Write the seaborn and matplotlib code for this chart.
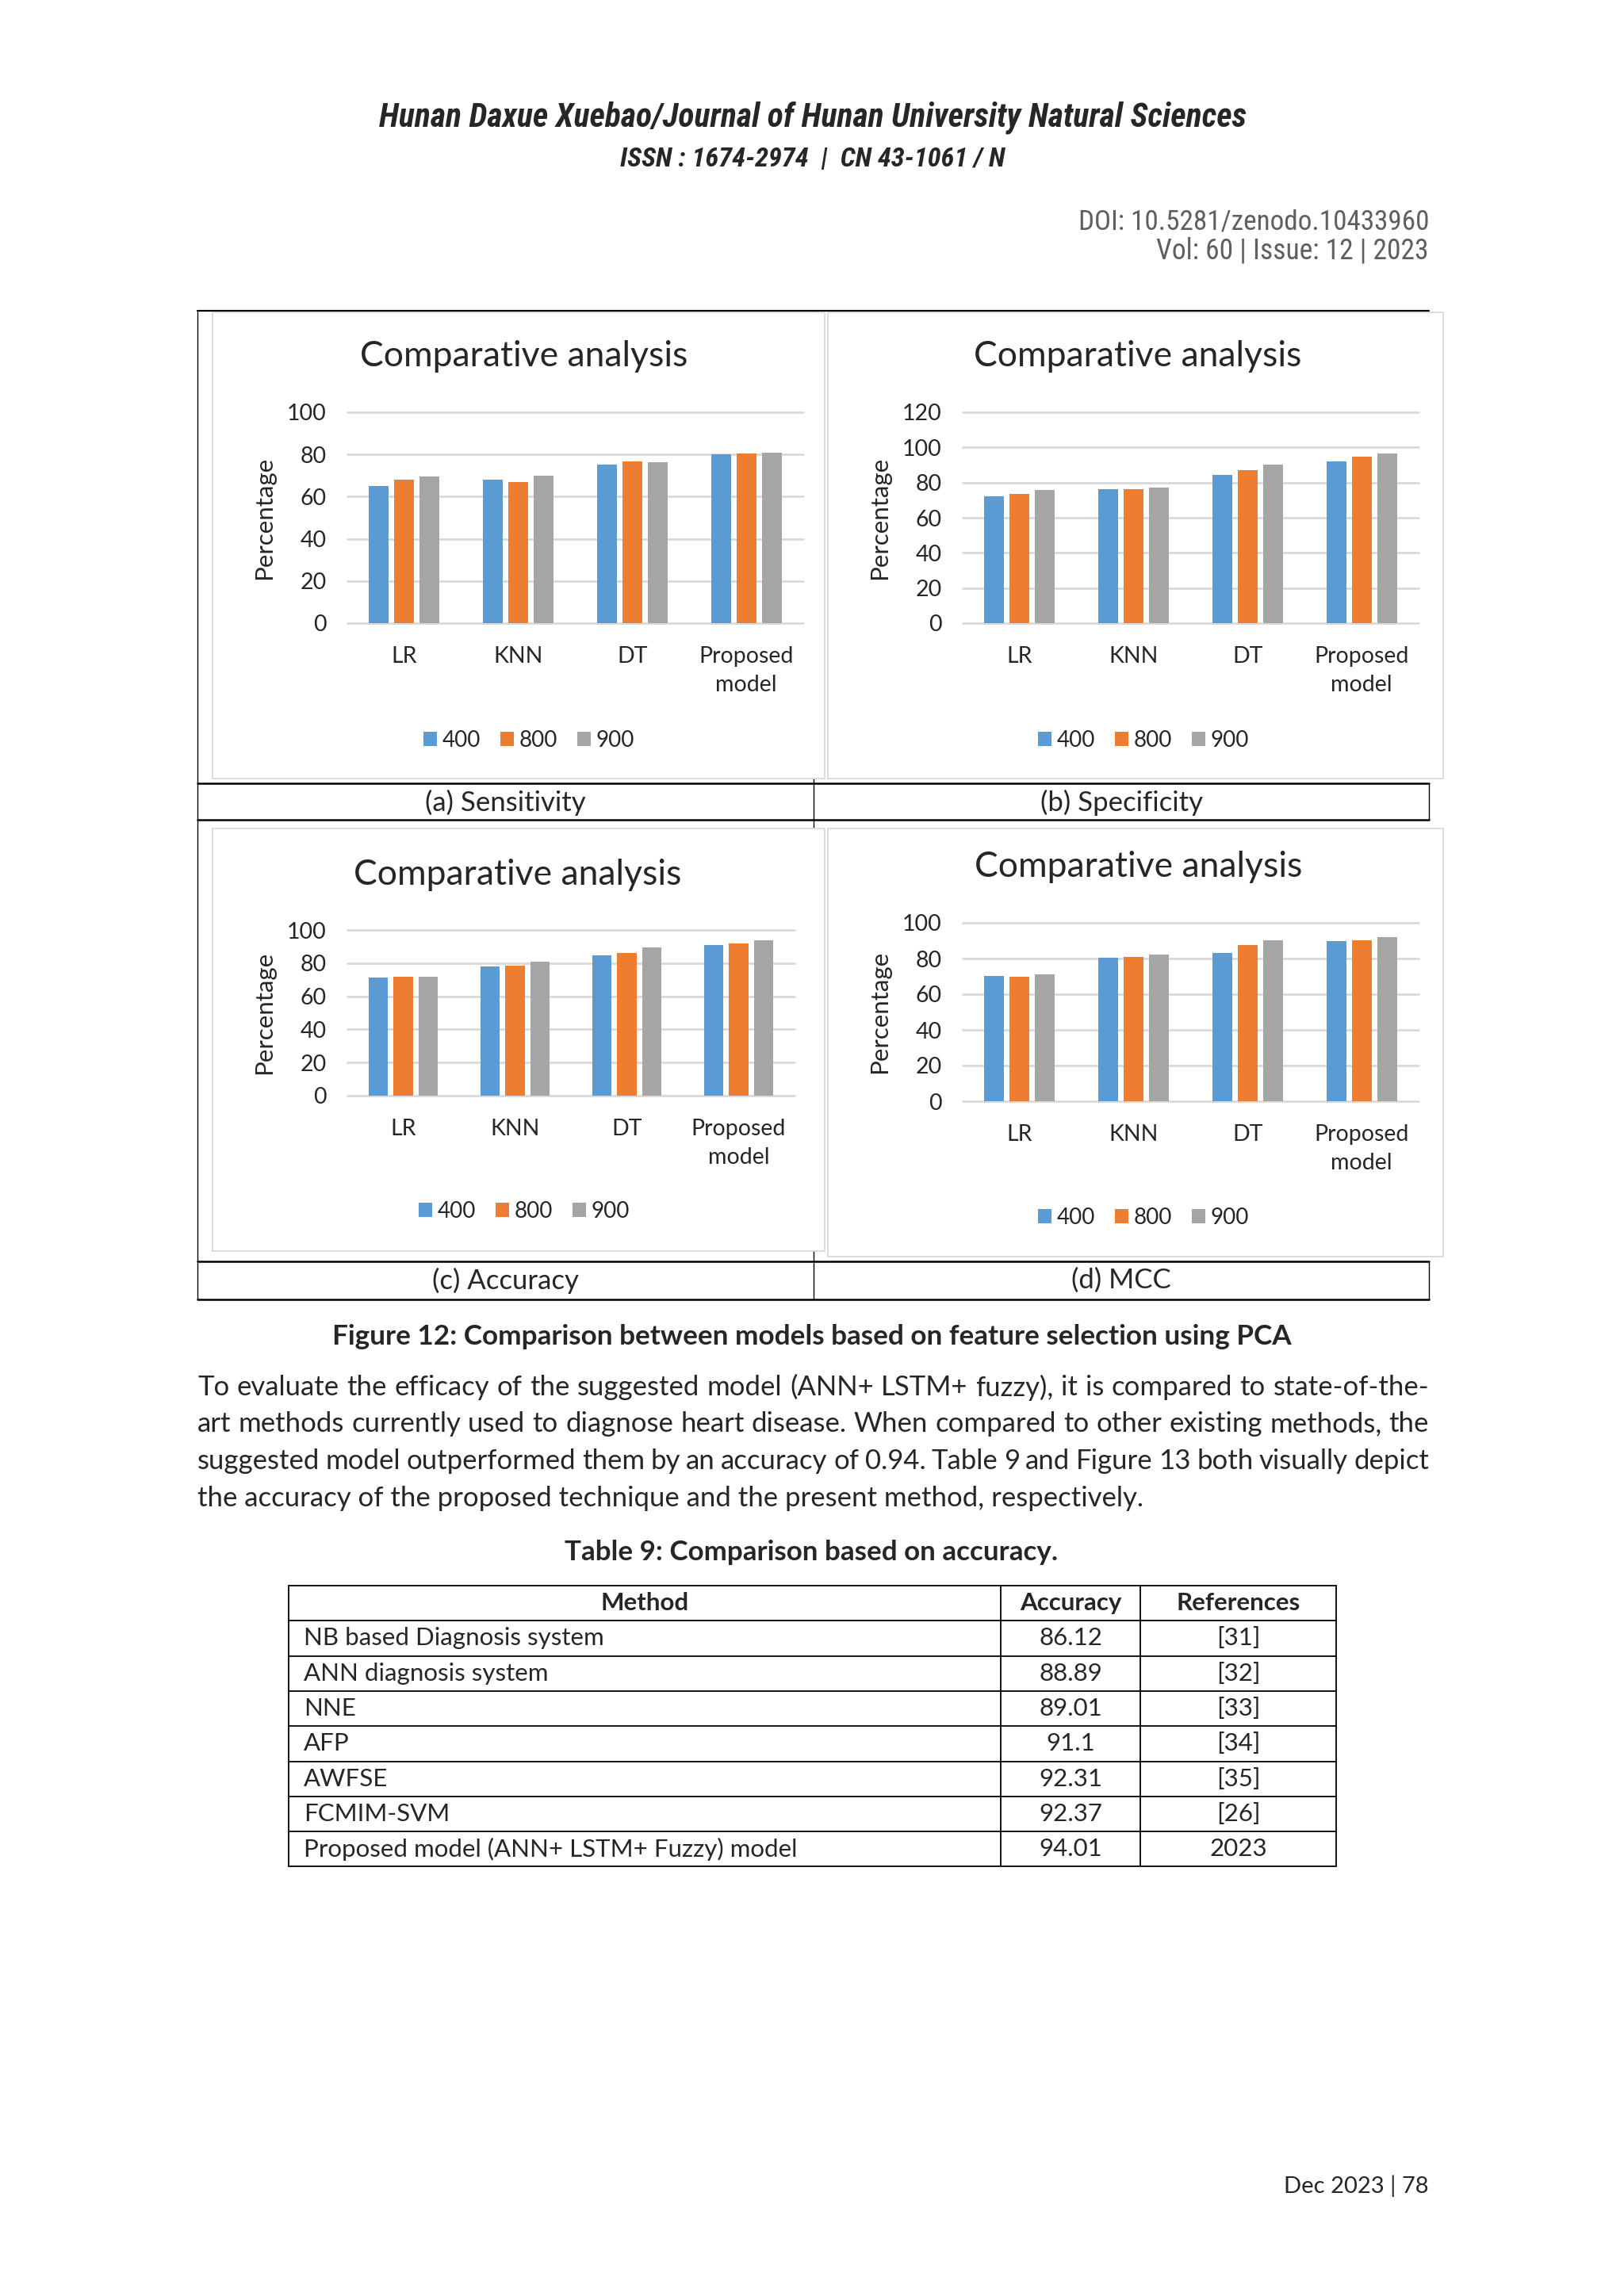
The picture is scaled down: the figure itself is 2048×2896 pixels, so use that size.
import pandas as pd
import seaborn as sns
import matplotlib.pyplot as plt
from matplotlib import font_manager
from matplotlib.font_manager import FontProperties
from matplotlib.lines import Line2D
from matplotlib.patches import Rectangle, Patch

# chart data
models = ['LR', 'KNN', 'DT', 'Proposed model']
model_labels = ['LR', 'KNN', 'DT', 'Proposed\nmodel']
sizes = ['400', '800', '900']
colors = ['#5B9BD5', '#ED7D31', '#A5A5A5']

sens_400 = [65.1, 68.1, 75.2, 80.0]
sens_800 = [68.1, 67.1, 76.8, 80.4]
sens_900 = [69.7, 70.1, 76.5, 81.0]

spec_400 = [72.2, 76.3, 84.3, 92.1]
spec_800 = [73.4, 76.3, 87.1, 94.6]
spec_900 = [76.0, 77.2, 90.1, 96.6]

acc_400 = [71.2, 78.1, 84.6, 90.8]
acc_800 = [71.9, 78.5, 86.0, 92.1]
acc_900 = [72.0, 80.9, 89.5, 93.7]

mcc_400 = [70.1, 80.5, 83.1, 89.9]
mcc_800 = [70.0, 80.9, 87.4, 90.4]
mcc_900 = [70.9, 82.2, 90.1, 92.0]

# table 9
methods = ['NB based Diagnosis system', 'ANN diagnosis system', 'NNE', 'AFP',
           'AWFSE', 'FCMIM-SVM', 'Proposed model (ANN+ LSTM+ Fuzzy) model']
accuracies = ['86.12', '88.89', '89.01', '91.1', '92.31', '92.37', '94.01']
references = ['[31]', '[32]', '[33]', '[34]', '[35]', '[26]', '2023']

paragraph = [
    'To evaluate the efficacy of the suggested model (ANN+ LSTM+ fuzzy), it is compared to state-of-the-',
    'art methods currently used to diagnose heart disease. When compared to other existing methods, the',
    'suggested model outperformed them by an accuracy of 0.94. Table 9 and Figure 13 both visually depict',
    'the accuracy of the proposed technique and the present method, respectively.',
]

sns.set_theme(style='white')
plt.rcParams['font.family'] = ['Lato', 'DejaVu Sans']

narrow_prefs = ['Liberation Sans Narrow', 'Arial Narrow', 'Roboto Condensed', 'Noto Sans',
                'Open Sans', 'Liberation Sans', 'DejaVu Sans']


def condensed_font(bold, italic):
    # pick the best narrow sans face for the journal header
    found = []
    for f in font_manager.fontManager.ttflist:
        narrow = 'Narrow' in f.name or 'Condensed' in f.name or f.stretch == 'condensed'
        if not narrow or 'Extra' in f.fname or 'Semi' in f.fname or 'Ultra' in f.fname:
            continue
        w = f.weight if isinstance(f.weight, int) else (700 if 'bold' in str(f.weight) else 400)
        if (w >= 600) != bold or (f.style != 'normal') != italic:
            continue
        rank = next((i for i, p in enumerate(narrow_prefs) if f.name.startswith(p)), None)
        if rank is not None:
            found.append((rank, abs(w - (700 if bold else 400)), f.fname))
    if found:
        return FontProperties(fname=sorted(found)[0][2])
    return FontProperties(family='Liberation Sans', weight='bold' if bold else 'normal',
                          style='italic' if italic else 'normal')


head_bi = condensed_font(True, True)
head_reg = condensed_font(False, False)

W, H = 2048, 2896
fig = plt.figure(figsize=(W / 100, H / 100), dpi=100)
renderer = fig.canvas.get_renderer()


def fx(px):
    return px / W


def fy(py):
    return 1 - py / H


def text_width(t):
    return t.get_window_extent(renderer).width


def fit_text(x, y, s, target, size=20, **kw):
    t = fig.text(fx(x), fy(y), s, **kw)
    t.set_fontsize(size)
    t.set_fontsize(size * target / text_width(t))
    return t


def hline(y, x0, x1, lw=1.3, color='black', z=-2):
    fig.add_artist(Line2D([fx(x0), fx(x1)], [fy(y), fy(y)], color=color, lw=lw, zorder=z))


def vline(x, y0, y1, lw=1.0, color='black', z=-2):
    fig.add_artist(Line2D([fx(x), fx(x)], [fy(y0), fy(y1)], color=color, lw=lw, zorder=z))


# header
fit_text(1025, 148, 'Hunan Daxue Xuebao/Journal of Hunan University Natural Sciences', 1092,
         fontproperties=head_bi, ha='center', va='center')
fit_text(1025, 201, 'ISSN : 1674-2974  |  CN 43-1061 / N', 486,
         fontproperties=head_bi, ha='center', va='center')
fit_text(1802, 280, 'DOI: 10.5281/zenodo.10433960', 442, fontproperties=head_reg, color='#5f5f5f',
         ha='right', va='center')
fit_text(1802, 317, 'Vol: 60 | Issue: 12 | 2023', 344, fontproperties=head_reg, color='#5f5f5f',
         ha='right', va='center')

# figure table frame
hline(392, 249, 1802, lw=1.6)
hline(988, 249, 1802, lw=1.8)
hline(1034, 249, 1802, lw=1.8)
hline(1591, 249, 1802, lw=1.8)
hline(1639, 249, 1802, lw=1.8)
vline(249, 392, 1639)
vline(1026, 392, 1639)
vline(1802, 988, 1034)
vline(1802, 1591, 1639)

panels = [
    dict(vals=(sens_400, sens_800, sens_900), ymax=100, ax=(438, 520, 1013, 786),
         box=(268, 394, 1040, 982), title=(661, 450), legend=(667, 934), ylab=333),
    dict(vals=(spec_400, spec_800, spec_900), ymax=120, ax=(1214, 520, 1789, 786),
         box=(1044, 394, 1820, 982), title=(1435, 450), legend=(1442, 934), ylab=1109),
    dict(vals=(acc_400, acc_800, acc_900), ymax=100, ax=(438, 1173, 1002, 1382),
         box=(268, 1045, 1040, 1578), title=(653, 1104), legend=(661, 1528), ylab=333),
    dict(vals=(mcc_400, mcc_800, mcc_900), ymax=100, ax=(1214, 1164, 1789, 1389),
         box=(1044, 1045, 1820, 1585), title=(1436, 1093), legend=(1442, 1536), ylab=1109),
]

for p in panels:
    bx0, by0, bx1, by1 = p['box']
    fig.add_artist(Rectangle((fx(bx0), fy(by1)), (bx1 - bx0) / W, (by1 - by0) / H,
                             transform=fig.transFigure, facecolor='white',
                             edgecolor='#D9D9D9', lw=1.3, zorder=-1))
    x0, y0, x1, y1 = p['ax']
    ax = fig.add_axes([fx(x0), fy(y1), (x1 - x0) / W, (y1 - y0) / H])
    ax.set_facecolor('none')
    df = pd.DataFrame({
        'model': models * 3,
        'size': [s for s in sizes for _ in models],
        'value': p['vals'][0] + p['vals'][1] + p['vals'][2],
    })
    sns.barplot(data=df, x='model', y='value', hue='size', order=models, hue_order=sizes,
                palette=colors, saturation=1, width=0.67, gap=0.22, linewidth=0,
                errorbar=None, legend=False, ax=ax)
    ax.set_xlim(-0.5, 3.5)
    ax.set_ylim(0, p['ymax'])
    ax.set_yticks(range(0, p['ymax'] + 1, 20))
    ax.set_xticks(range(4))
    ax.set_xticklabels(model_labels, linespacing=1.45)
    ax.set_xlabel('')
    ax.set_ylabel('Percentage', fontsize=22.5, va='center')
    ax.yaxis.set_label_coords((p['ylab'] - x0) / (x1 - x0), 0.5)
    ax.grid(axis='y', color='#D9D9D9', lw=2)
    ax.set_axisbelow(True)
    for line in ax.get_ygridlines():
        line.set_clip_on(False)
    for sp in ax.spines.values():
        sp.set_visible(False)
    ax.tick_params(axis='y', length=0, labelsize=20.5, pad=19)
    ax.tick_params(axis='x', length=0, labelsize=20.5, pad=21)

    fig.text(fx(p['title'][0]), fy(p['title'][1]), 'Comparative analysis', fontsize=32,
             ha='center', va='center')
    handles = [Patch(facecolor=c, edgecolor='none') for c in colors]
    fig.legend(handles, sizes, loc='center', bbox_to_anchor=(fx(p['legend'][0]), fy(p['legend'][1])),
               ncol=3, frameon=False, fontsize=20, handlelength=0.6, handleheight=0.6,
               handletextpad=0.25, columnspacing=0.9, borderpad=0)

# panel captions
fig.text(fx(637), fy(1012), '(a) Sensitivity', fontsize=25, ha='center', va='center')
fig.text(fx(1414), fy(1012), '(b) Specificity', fontsize=25, ha='center', va='center')
fig.text(fx(637), fy(1615), '(c) Accuracy', fontsize=25, ha='center', va='center')
fig.text(fx(1414), fy(1615), '(d) MCC', fontsize=25, ha='center', va='center')

# figure caption
fit_text(1024, 1686, 'Figure 12: Comparison between models based on feature selection using PCA', 1212,
         weight='bold', ha='center', va='center')

# justified paragraph
px0, px1 = 249, 1802
body = 25
for i, line in enumerate(paragraph):
    y = 1750 + i * 46.5
    words = line.split(' ')
    if i == len(paragraph) - 1:
        fig.text(fx(px0), fy(y), line, fontsize=body, ha='left', va='center')
        continue
    ts = [fig.text(0, fy(y), w, fontsize=body, ha='left', va='center') for w in words]
    widths = [text_width(t) for t in ts]
    gap = (px1 - px0 - sum(widths)) / (len(words) - 1)
    x = px0
    for t, w in zip(ts, widths):
        t.set_x(fx(x))
        x += w + gap

# table 9
fit_text(1023, 1958, 'Table 9: Comparison based on accuracy.', 623, weight='bold', ha='center', va='center')
tx = [364, 1262, 1438, 1685]
ty0, rh = 2000, 44.3
nrows = len(methods) + 1
for r in range(nrows + 1):
    hline(ty0 + r * rh, tx[0], tx[-1], lw=1.3)
for x in tx:
    vline(x, ty0, ty0 + nrows * rh, lw=1.3)
tsize = 22.5
hy = ty0 + rh / 2
fig.text(fx((tx[0] + tx[1]) / 2), fy(hy), 'Method', fontsize=tsize, weight='bold', ha='center', va='center')
fig.text(fx((tx[1] + tx[2]) / 2), fy(hy), 'Accuracy', fontsize=tsize, weight='bold', ha='center', va='center')
fig.text(fx((tx[2] + tx[3]) / 2), fy(hy), 'References', fontsize=tsize, weight='bold', ha='center', va='center')
for i, (m, a, r) in enumerate(zip(methods, accuracies, references)):
    y = ty0 + (i + 1.5) * rh
    fig.text(fx(tx[0] + 19), fy(y), m, fontsize=tsize, ha='left', va='center')
    fig.text(fx((tx[1] + tx[2]) / 2), fy(y), a, fontsize=tsize, ha='center', va='center')
    fig.text(fx((tx[2] + tx[3]) / 2), fy(y), r, fontsize=tsize, ha='center', va='center')

# footer
fig.text(fx(1802), fy(2757), 'Dec 2023 | 78', fontsize=21, ha='right', va='center')

fig.savefig('out.png', dpi=100, facecolor='white')
